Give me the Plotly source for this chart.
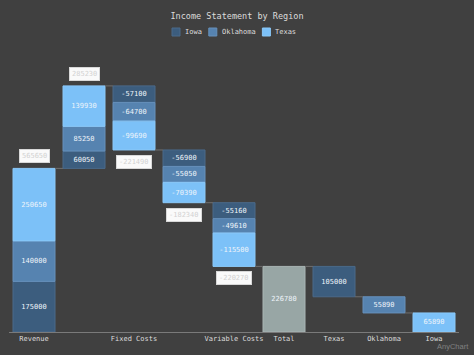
import plotly.graph_objects as go

# ---------------- data ----------------
categories = ["Revenue", "Other Revenue", "Fixed Costs", "Other Costs", "Variable Costs"]
tick_labels = ["Revenue", "", "Fixed Costs", "", "Variable Costs", "Total", "Texas", "Oklahoma", "Iowa"]
iowa = [175000, 60050, -57100, -56900, -55160]
oklahoma = [140000, 85250, -64700, -55050, -49610]
texas = [250650, 139930, -99690, -70390, -115500]
total_label = "Total"
breakdown_labels = ["Texas", "Oklahoma", "Iowa"]
breakdown_values = [105000, 55890, 65890]

series_names = ["Iowa", "Oklahoma", "Texas"]
series_values = [iowa, oklahoma, texas]
colors = ["#3c5d7e", "#5683b0", "#7cc1f8"]
line_colors = ["#4a6a8a", "#6690bb", "#8ac8f8"]
total_color = "#98a6a5"

FONT = "DejaVu Sans Mono"
W = 0.84

# page geometry (pixels)
WIDTH, HEIGHT = 474, 355
ML, MR, MT, MB = 9, 15, 50, 23
PW, PH = WIDTH - ML - MR, HEIGHT - MT - MB


def px_x(p):
    return (p - ML) / PW


def px_y(p):
    return (HEIGHT - MB - p) / PH


# ---------------- build geometry from data ----------------
n = len(categories)
seg = {s: {"x": [], "base": [], "y": [], "text": []} for s in series_names}
cum = 0
levels = []  # (start, end) per column
for i in range(n):
    start = cum
    vals = [sv[i] for sv in series_values]
    if sum(vals) >= 0:
        b = start
        for s, v in zip(series_names, vals):
            seg[s]["x"].append(i); seg[s]["base"].append(b); seg[s]["y"].append(v); seg[s]["text"].append(str(v))
            b += v
    else:
        t = start
        for s, v in zip(series_names, vals):
            seg[s]["x"].append(i); seg[s]["base"].append(t + v); seg[s]["y"].append(-v); seg[s]["text"].append(str(v))
            t += v
    cum = start + sum(vals)
    levels.append((start, cum))

total_value = cum
total_idx = n
levels.append((0, total_value))

# breakdown: descending from total
top = total_value
for k, (lab, v) in enumerate(zip(breakdown_labels, breakdown_values)):
    s = series_names[k]
    idx = n + 1 + k
    seg[s]["x"].append(idx); seg[s]["base"].append(top - v); seg[s]["y"].append(v); seg[s]["text"].append(str(v))
    levels.append((top, top - v))
    top -= v

fig = go.Figure()

# connector lines
cx, cy = [], []
for i in range(len(levels) - 1):
    lvl = levels[i][1]
    cx += [i + W / 2, i + 1 - W / 2, None]
    cy += [lvl, lvl, None]
fig.add_trace(go.Scatter(x=cx, y=cy, mode="lines", line=dict(color="#6e6e6e", width=1),
                         showlegend=False, hoverinfo="skip"))

for s, c, lc in zip(series_names, colors, line_colors):
    d = seg[s]
    fig.add_trace(go.Bar(
        name=s, x=d["x"], y=d["y"], base=d["base"], width=W,
        marker=dict(color=c, line=dict(color=lc, width=1)),
        text=d["text"], textposition="inside", insidetextanchor="middle",
        textfont=dict(family=FONT, size=7, color="#eef4fa"), textangle=0,
        showlegend=False,
    ))

fig.add_trace(go.Bar(
    name=total_label, x=[total_idx], y=[total_value], base=[0], width=W,
    marker=dict(color=total_color, line=dict(color="#a9b5b4", width=1)),
    text=[str(total_value)], textposition="inside", insidetextanchor="middle",
    textfont=dict(family=FONT, size=7, color="#eef4fa"), textangle=0, showlegend=False,
))

# sum labels in white boxes
for i in range(n):
    start, end = levels[i]
    diff = end - start
    fig.add_annotation(
        x=i, y=end, text=str(diff), showarrow=False,
        yanchor="bottom" if diff >= 0 else "top",
        yshift=5 if diff >= 0 else -5,
        bgcolor="#fafafa", bordercolor="#d8d8d8", borderwidth=1, borderpad=2,
        font=dict(family=FONT, size=7, color="#d2d2d2"),
    )

# legend (drawn compactly, like the reference)
lx = 172
ly = 32
for s, c, lc in zip(series_names, colors, line_colors):
    fig.add_shape(type="rect", xref="paper", yref="paper",
                  x0=px_x(lx), x1=px_x(lx + 8), y0=px_y(ly + 4), y1=px_y(ly - 4),
                  fillcolor=c, line=dict(color=lc, width=1))
    tw = len(s) * 4.2
    fig.add_annotation(x=px_x(lx + 11), y=px_y(ly), xref="paper", yref="paper",
                       xanchor="left", yanchor="middle", text=s, showarrow=False,
                       font=dict(family=FONT, size=7, color="#dcdcdc"))
    lx += 11 + tw + 9

fig.add_annotation(x=px_x(WIDTH - 3), xref="paper", y=px_y(HEIGHT - 2), yref="paper",
                   xanchor="right", yanchor="bottom",
                   text="AnyChart", showarrow=False,
                   font=dict(family="Liberation Sans", size=7.5, color="#808080"))

fig.update_layout(
    width=WIDTH, height=HEIGHT,
    paper_bgcolor="#404040", plot_bgcolor="#404040",
    margin=dict(l=ML, r=MR, t=MT, b=MB),
    barmode="overlay",
    showlegend=False,
    title=dict(text="Income Statement by Region", x=0.5, xanchor="center",
               y=1 - 16 / HEIGHT, yanchor="middle",
               font=dict(family=FONT, size=8.5, color="#dcdcdc")),
    xaxis=dict(tickmode="array", tickvals=list(range(len(tick_labels))), ticktext=tick_labels,
               range=[-0.5, len(tick_labels) - 0.5], showgrid=False, zeroline=False,
               showline=True, linecolor="#7a7a7a", linewidth=1, ticks="",
               tickfont=dict(family=FONT, size=7, color="#dcdcdc")),
    yaxis=dict(range=[0, 975000], visible=False, showgrid=False, zeroline=False),
    font=dict(family=FONT),
)

fig.write_html("out.html", config={"displayModeBar": False},
               post_script="document.body.style.margin='0';document.body.style.background='#404040';")
